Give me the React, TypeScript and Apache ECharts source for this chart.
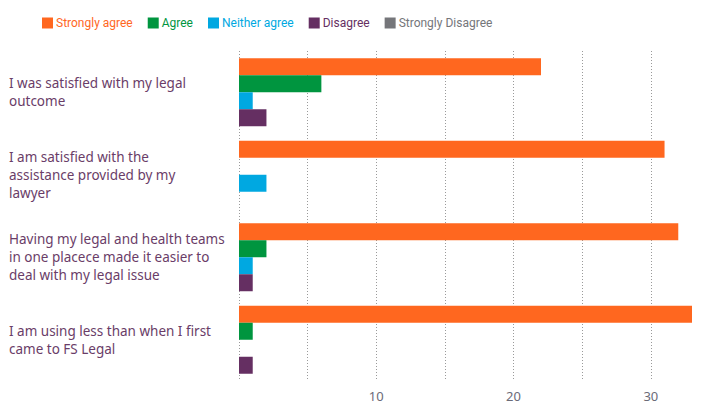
import React, { useEffect, useRef } from "react";
import * as echarts from "echarts";

// Survey statements, one per row (line breaks as laid out on the axis)
const statements = [
  "I was satisfied with my legal\noutcome",
  "I am satisfied with the\nassistance provided by my\nlawyer",
  "Having my legal and health teams\nin one placece made it easier to\ndeal with my legal issue",
  "I am using less than when I first\ncame to FS Legal",
];

const responseNames = ["Strongly agree", "Agree", "Neither agree", "Disagree", "Strongly Disagree"];
const responseColors = ["#FF671F", "#00953F", "#00A8E1", "#652F62", "#75767A"];

// Number of respondents per answer, in statement order
const stronglyAgree = [22, 31, 32, 33];
const agree = [6, 0, 2, 1];
const neitherAgree = [1, 2, 1, 0];
const disagree = [2, 0, 1, 1];
const stronglyDisagree = [0, 0, 0, 0];

const responseValues = [stronglyAgree, agree, neitherAgree, disagree, stronglyDisagree];

const FONT = "Noto Sans";
const LEGEND_FONT = "Roboto";

export default function App() {
  const ref = useRef<HTMLDivElement>(null);

  useEffect(() => {
    if (!ref.current) return;
    const chart = echarts.init(ref.current, undefined, { renderer: "svg" });

    const series = responseNames.map((name, i) => ({
      name,
      type: "bar" as const,
      data: responseValues[i],
      barWidth: 17,
      barGap: "0%",
      // the last answer has no responses; it shares the Disagree slot
      stack: i >= 3 ? "disagreeGroup" : name,
      itemStyle: { color: responseColors[i] },
      emphasis: { disabled: true },
    }));

    chart.setOption({
      animation: false,
      legend: {
        top: 12,
        left: 37,
        icon: "rect",
        itemWidth: 11,
        itemHeight: 11,
        itemGap: 15,
        selectedMode: false,
        data: responseNames.map((name, i) => ({
          name,
          textStyle: { color: responseColors[i] },
        })),
        textStyle: { fontFamily: LEGEND_FONT, fontSize: 12, padding: [0, 0, 0, -2] },
      },
      grid: { left: 239, right: 10, top: 51, bottom: 28, containLabel: false },
      xAxis: {
        type: "value",
        min: 0,
        max: 33,
        interval: 5,
        axisLine: { show: false },
        axisTick: { show: false },
        splitLine: {
          show: true,
          showMaxLine: false,
          lineStyle: { type: [1, 2], color: "#9a9a9a", width: 1 },
        },
        axisLabel: {
          color: "#6b6b78",
          fontFamily: FONT,
          fontSize: 13,
          margin: 8,
          formatter: (v: number) => (v > 0 && v % 10 === 0 ? String(v) : ""),
        },
      },
      yAxis: {
        type: "category",
        inverse: true,
        data: statements,
        axisLine: { show: false },
        axisTick: { show: false },
        splitLine: { show: false },
        axisLabel: {
          align: "left",
          margin: 230,
          color: "#6a3d68",
          fontFamily: FONT,
          fontSize: 13.5,
          lineHeight: 18,
        },
      },
      series,
    });

    return () => chart.dispose();
  }, []);

  return <div ref={ref} style={{ width: 702, height: 409, position: "absolute", left: 0, top: 0 }} />;
}
